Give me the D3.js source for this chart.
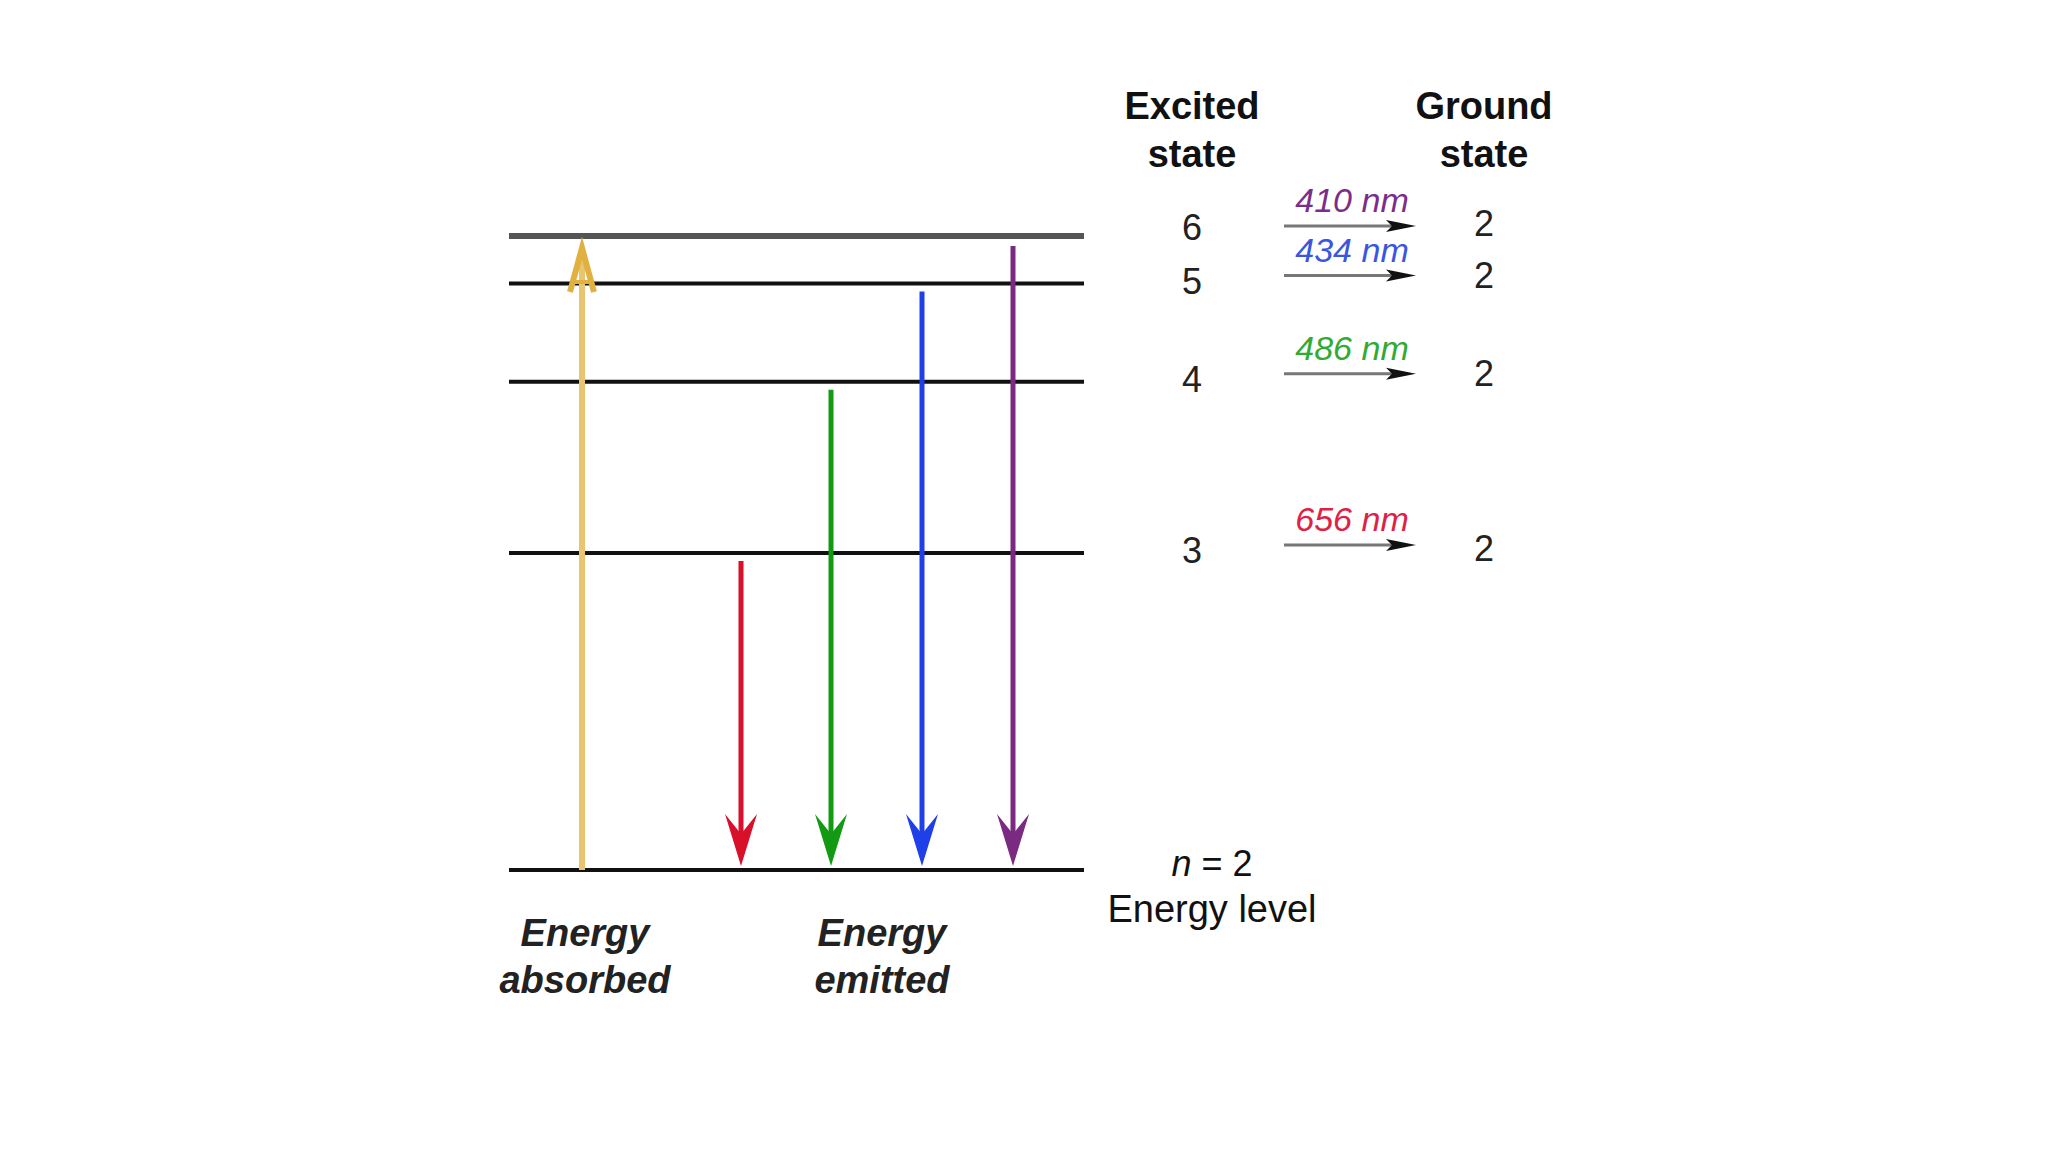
<!DOCTYPE html>
<html><head><meta charset="utf-8">
<script src="https://cdn.jsdelivr.net/npm/d3@7"></script>
<style>body{margin:0;background:#fff}text{font-family:"Liberation Sans",Arial,sans-serif}</style>
</head><body><svg id="c" width="2048" height="1152"></svg>
<script>
const levels = [2, 3, 4, 5, 6];
const levelPos = [0, 0.5, 0.77, 0.925, 1.0]; // relative energy position
const transitions = [
  {from: 3, label: "656 nm", color: "#d8102a", text: "#dd2244"},
  {from: 4, label: "486 nm", color: "#129a12", text: "#33aa33"},
  {from: 5, label: "434 nm", color: "#1f3fe8", text: "#3a55e0"},
  {from: 6, label: "410 nm", color: "#7a2a80", text: "#7b2d8b"}
];
const headers = [["Excited", "state"], ["Ground", "state"]];

const svg = d3.select("#c");
const y = d3.scaleLinear().domain([0, 1]).range([870, 236]);
const ly = n => y(levelPos[levels.indexOf(n)]);
const x = d3.scaleLinear().domain([0, 1]).range([509, 1084]);
const ax = d3.scalePoint().domain(["abs", 3, 4, 5, 6]).range([582, 1013]);
ax.range([582, 1013]);
const axPos = {abs: 582, 3: 741, 4: 831, 5: 922, 6: 1013};

// levels
levels.forEach(n => {
  svg.append("line").attr("x1", x(0)).attr("x2", x(1)).attr("y1", ly(n)).attr("y2", ly(n))
    .attr("stroke", n === 6 ? "#555" : "#111").attr("stroke-width", n === 6 ? 6 : 4);
});

function headDown(cx, tip, color) {
  const w = 16, h = 52, notch = 20;
  svg.append("path").attr("d", `M${cx},${tip} L${cx - w},${tip - h} L${cx},${tip - h + notch} L${cx + w},${tip - h} Z`).attr("fill", color);
}
// absorbed
svg.append("line").attr("x1", axPos.abs).attr("x2", axPos.abs).attr("y1", ly(2)).attr("y2", 252)
  .attr("stroke", "#e9c572").attr("stroke-width", 6);
svg.append("path").attr("d", `M${axPos.abs - 12},292 L${axPos.abs},248 L${axPos.abs + 12},292`)
  .attr("fill", "none").attr("stroke", "#e0b040").attr("stroke-width", 6);
svg.append("line").attr("x1", axPos.abs - 8).attr("x2", axPos.abs + 8).attr("y1", 282).attr("y2", 282).attr("stroke", "#e0b040").attr("stroke-width", 4);

transitions.forEach(t => {
  const cx = axPos[t.from];
  const top = t.from === 6 ? 246 : ly(t.from) + 8;
  svg.append("line").attr("x1", cx).attr("x2", cx).attr("y1", top).attr("y2", ly(2) - 30)
    .attr("stroke", t.color).attr("stroke-width", 5);
  headDown(cx, ly(2) - 4, t.color);
  const ry = ly(t.from);
  svg.append("text").attr("x", 1192).attr("y", ry - 2 + (t.from===6?-6:0) + 12).attr("text-anchor", "middle")
    .attr("font-size", 36).attr("fill", "#222").text(t.from);
  svg.append("text").attr("x", 1484).attr("y", ry + 12 - (t.from===3?4:8) + (t.from===6?-4:0)).attr("text-anchor", "middle")
    .attr("font-size", 36).attr("fill", "#222").text(2);
  const ay = ry - 8 + (t.from===6?-2:0);
  svg.append("text").attr("x", 1352).attr("y", ay - 14).attr("text-anchor", "middle")
    .attr("font-size", 34).attr("font-style", "italic").attr("fill", t.text).text(t.label);
  svg.append("line").attr("x1", 1284).attr("x2", 1395).attr("y1", ay).attr("y2", ay).attr("stroke", "#777").attr("stroke-width", 3);
  svg.append("path").attr("d", `M1416,${ay} L1386,${ay - 6} L1392,${ay} L1386,${ay + 6} Z`).attr("fill", "#111");
});

[[1192, headers[0]], [1484, headers[1]]].forEach(([hx, lines]) => {
  lines.forEach((s, i) => svg.append("text").attr("x", hx).attr("y", 119 + i * 48).attr("text-anchor", "middle")
    .attr("font-size", 38).attr("font-weight", "bold").attr("fill", "#111").text(s));
});
const n2 = svg.append("text").attr("x", 1212).attr("y", 876).attr("text-anchor", "middle").attr("font-size", 36).attr("fill", "#111");
n2.append("tspan").attr("font-style", "italic").text("n");
n2.append("tspan").text(" = 2");
svg.append("text").attr("x", 1212).attr("y", 922).attr("text-anchor", "middle").attr("font-size", 38).attr("fill", "#111").text("Energy level");
[[585, ["Energy", "absorbed"]], [882, ["Energy", "emitted"]]].forEach(([hx, lines]) => {
  lines.forEach((s, i) => svg.append("text").attr("x", hx).attr("y", 946 + i * 47).attr("text-anchor", "middle")
    .attr("font-size", 38).attr("font-weight", "bold").attr("font-style", "italic").attr("fill", "#222").text(s));
});
</script></body></html>
